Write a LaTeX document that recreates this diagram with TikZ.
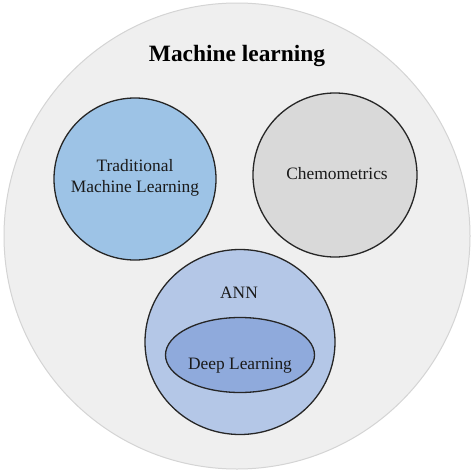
\documentclass[tikz,border=0pt]{standalone}
\usepackage{fontspec}
\setmainfont{Liberation Serif}
\definecolor{outerfill}{HTML}{EFEFEF}
\definecolor{outerline}{HTML}{D4D4D4}
\definecolor{tmlfill}{HTML}{9DC3E6}
\definecolor{chemfill}{HTML}{D9D9D9}
\definecolor{annfill}{HTML}{B4C7E7}
\definecolor{dlfill}{HTML}{8FAADC}
\definecolor{txt}{HTML}{1A1A1A}
\tikzset{
  blob/.style={draw=black!85, line width=1.3pt},
  lbl/.style={text=txt, font=\fontsize{17.4}{21}\selectfont, align=center, inner sep=0pt},
}
\begin{document}
\begin{tikzpicture}[x=1pt,y=-1pt]
\useasboundingbox (0,0) rectangle (474,474);
\fill[white] (0,0) rectangle (474,474);
\draw[fill=outerfill, draw=outerline, line width=1pt] (237,236) circle[radius=233];
\draw[blob, fill=tmlfill] (135,179) circle[radius=81];
\draw[blob, fill=chemfill] (335,175) circle[radius=82];
\draw[blob, fill=annfill] (240,342) ellipse[x radius=95, y radius=92.5];
\draw[blob, fill=dlfill] (240,355) ellipse[x radius=74.5, y radius=37.5];
\node[lbl, font=\bfseries\fontsize{23.4}{28}\selectfont, text=black] (ml) at (237,56) {Machine learning};
\node[lbl] (tml) at (135,178) {Traditional\\Machine Learning};
\node[lbl] (chem) at (337,174) {Chemometrics};
\node[lbl] (ann) at (239,293) {ANN};
\node[lbl] (dl) at (240,366) {Deep Learning};
\end{tikzpicture}
\end{document}
